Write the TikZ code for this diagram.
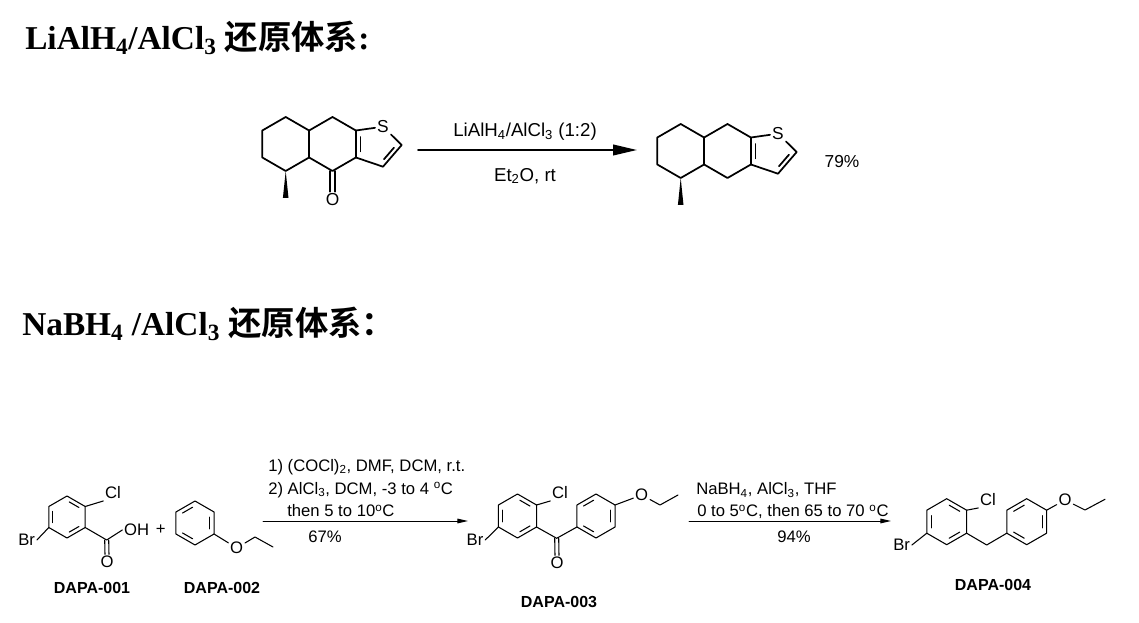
\documentclass[tikz,border=0pt]{standalone}
\usepackage{fontspec}
\setmainfont{Liberation Serif}
\newfontfamily\chem{Liberation Sans}
\newfontfamily\cjk{Noto Sans CJK SC}[BoldFont={* Bold}]
\usetikzlibrary{calc,arrows.meta}

% ring with centre (name) and corners name1..name6 (top, clockwise)
\newcommand\hexring[4]{%
  \coordinate (#1) at (#2,#3);
  \foreach \k/\a in {1/-90,2/-30,3/30,4/90,5/150,6/210}
    \coordinate (#1\k) at ({#2+#4*cos(\a)},{#3+#4*sin(\a)});}
\newcommand\hexdraw[1]{\draw (#11)--(#12)--(#13)--(#14)--(#15)--(#16)--cycle;}
% inner line of a double bond
\newcommand\dbl[3]{\draw ($($(#1)!0.16!(#2)$)!0.22!(#3)$) -- ($($(#2)!0.16!(#1)$)!0.22!(#3)$);}
% tricyclic skeleton, shifted by #2,#3
\newcommand\tricyc[3]{%
  \hexring{#1a}{285.7+#2}{144+#3}{27}
  \hexring{#1b}{332.5+#2}{144+#3}{27}
  \coordinate (#1c) at ({377+#2},{145+#3});
  \node[atom,font=\chem\fontsize{13}{15}\selectfont] (#1S) at ({383+#2},{126.7+#3}) {S};
  \coordinate (#1c2) at ({401.7+#2},{145+#3});
  \coordinate (#1c3) at ({383+#2},{166.7+#3});
  \coordinate (#1me) at ({285.7+#2},{198+#3});
  \hexdraw{#1a}
  \draw (#1b6)--(#1b1)--(#1b2)--(#1b3)--(#1b4)--(#1b5);
  \draw (#1b2)--(#1S)--(#1c2)--(#1c3)--(#1b3);
  \dbl{#1b2}{#1b3}{#1c}
  \dbl{#1c2}{#1c3}{#1c}
  \fill (#1a4) -- ($(#1me)+(-2.8,0)$) -- ($(#1me)+(2.8,0)$) -- cycle;}

\tikzset{
  atom/.style={font=\chem\fontsize{12.5}{14}\selectfont, inner sep=1pt},
  cond/.style={font=\chem\fontsize{12.5}{14}\selectfont, inner sep=0pt},
  top/.style={font=\chem\fontsize{14}{16}\selectfont, inner sep=0pt},
  tag/.style={font=\chem\bfseries\fontsize{12}{14}\selectfont},
  head/.style={font=\bfseries\fontsize{25}{28}\selectfont, anchor=base west, inner sep=0pt}
}

\begin{document}
\begin{tikzpicture}[x=0.75pt,y=-0.75pt,line cap=round,line join=round]
\useasboundingbox (0,0) rectangle (1139,623);

% headings
\node[head] (h1) at (25,50) {LiAlH\textsubscript{4}/AlCl\textsubscript{3} {\cjk 还原体系}:};
\node[head] (h2) at (22,336) {NaBH\textsubscript{4} /AlCl\textsubscript{3} {\cjk 还原体系：}};

% top reaction
\begin{scope}[line width=1.3pt]
  \tricyc{p}{0}{0}
  \node[atom,font=\chem\fontsize{13}{15}\selectfont] (pO) at (332.5,200) {O};
  \draw ($(pb4)+(-2.5,0)$) -- ($(pO.north)+(-2.5,0)$);
  \draw ($(pb4)+(2.5,0)$) -- ($(pO.north)+(2.5,0)$);
  \tricyc{q}{395}{7}
\end{scope}
\coordinate (a1s) at (418,150);
\coordinate (a1e) at (637,150);
\draw[line width=1.4pt,-{Triangle[length=18pt,width=8pt]}] (a1s) -- (a1e);
\node[top] (t1) at (525,132) {LiAlH\textsubscript{4}/AlCl\textsubscript{3} (1:2)};
\node[top] (t2) at (525,176) {Et\textsubscript{2}O, rt};
\node[top,font=\chem\fontsize{13}{15}\selectfont] (yield1) at (842,162) {79\%};

% bottom reaction
\begin{scope}[line width=0.8pt]
  % DAPA-001
  \hexring{m}{67}{517}{21}
  \hexdraw{m}
  \dbl{m1}{m2}{m} \dbl{m3}{m4}{m} \dbl{m5}{m6}{m}
  \node[atom] (mCl) at (113,493) {Cl};
  \node[atom] (mBr) at (26.7,540) {Br};
  \coordinate (mC) at (106.7,540);
  \node[atom] (mOH) at (136.7,530) {OH};
  \node[atom] (mO) at (107,562) {O};
  \draw (m2) -- (mCl.south west);
  \draw (m5) -- (mBr.east);
  \draw (m3) -- (mC) -- (mOH.west);
  \draw ($(mC)+(-2,0)$) -- ($(mO.north)+(-2,0)$);
  \draw ($(mC)+(2,0)$) -- ($(mO.north)+(2,0)$);
  % DAPA-002
  \hexring{n}{195}{523}{22}
  \hexdraw{n}
  \dbl{n6}{n1}{n} \dbl{n2}{n3}{n} \dbl{n4}{n5}{n}
  \node[atom] (nO) at (236.7,548) {O};
  \coordinate (nC1) at (255,537);
  \coordinate (nC2) at (273,547);
  \draw (n3) -- (nO) -- (nC1) -- (nC2);
  % DAPA-003
  \hexring{r}{517.5}{516}{22}
  \hexdraw{r}
  \dbl{r1}{r2}{r} \dbl{r3}{r4}{r} \dbl{r5}{r6}{r}
  \hexring{s}{596}{516}{22}
  \hexdraw{s}
  \dbl{s6}{s1}{s} \dbl{s2}{s3}{s} \dbl{s4}{s5}{s}
  \node[atom] (rCl) at (560,493) {Cl};
  \node[atom] (rBr) at (475,540) {Br};
  \coordinate (rC) at (556.7,538.3);
  \node[atom] (rO) at (557,563) {O};
  \draw (r2) -- (rCl.south west);
  \draw (r5) -- (rBr.east);
  \draw (r3) -- (rC) -- (s5);
  \draw ($(rC)+(-2,0)$) -- ($(rO.north)+(-2,0)$);
  \draw ($(rC)+(2,0)$) -- ($(rO.north)+(2,0)$);
  \node[atom] (sO) at (641.7,495) {O};
  \coordinate (sC1) at (660,505);
  \coordinate (sC2) at (678,495);
  \draw (s2) -- (sO) -- (sC1) -- (sC2);
  % DAPA-004
  \hexring{u}{946.7}{521.7}{23}
  \hexdraw{u}
  \dbl{u1}{u2}{u} \dbl{u3}{u4}{u} \dbl{u5}{u6}{u}
  \hexring{v}{1026.7}{521.7}{23}
  \hexdraw{v}
  \dbl{v6}{v1}{v} \dbl{v2}{v3}{v} \dbl{v4}{v5}{v}
  \node[atom] (uCl) at (988,500) {Cl};
  \node[atom] (uBr) at (901.7,545) {Br};
  \coordinate (uC) at (986.7,545);
  \draw (u2) -- (uCl.south west);
  \draw (u5) -- (uBr.east);
  \draw (u3) -- (uC) -- (v5);
  \node[atom] (vO) at (1065,500) {O};
  \coordinate (vC1) at (1085,510);
  \coordinate (vC2) at (1105,499.3);
  \draw (v2) -- (vO) -- (vC1) -- (vC2);
\end{scope}
\node[cond] (plus) at (160.7,530) {+};

% arrows
\coordinate (a2s) at (263,521);
\coordinate (a2e) at (468,521);
\draw[line width=0.7pt,-{Triangle[length=8pt,width=3.5pt]}] (a2s) -- (a2e);
\node[cond,anchor=west] (c1) at (268,467) {1) (COCl)\textsubscript{2}, DMF, DCM, r.t.};
\node[cond,anchor=west] (c2) at (268,490) {2) AlCl\textsubscript{3}, DCM, -3 to 4 \textsuperscript{o}C};
\node[cond,anchor=west] (c3) at (287,511) {then 5 to 10\textsuperscript{o}C};
\node[cond] (c4) at (325,537) {67\%};
\coordinate (a3s) at (689,521);
\coordinate (a3e) at (891,521);
\draw[line width=0.7pt,-{Triangle[length=8pt,width=3.5pt]}] (a3s) -- (a3e);
\node[cond,anchor=west] (d1) at (696,490) {NaBH\textsubscript{4}, AlCl\textsubscript{3}, THF};
\node[cond,anchor=west] (d2) at (697,512) {0 to 5\textsuperscript{o}C, then 65 to 70 \textsuperscript{o}C};
\node[cond] (d3) at (794,537) {94\%};

% labels
\node[tag] (l1) at (92,588) {DAPA-001};
\node[tag] (l2) at (222,588) {DAPA-002};
\node[tag] (l3) at (559,601.7) {DAPA-003};
\node[tag] (l4) at (993,585) {DAPA-004};
\end{tikzpicture}
\end{document}
